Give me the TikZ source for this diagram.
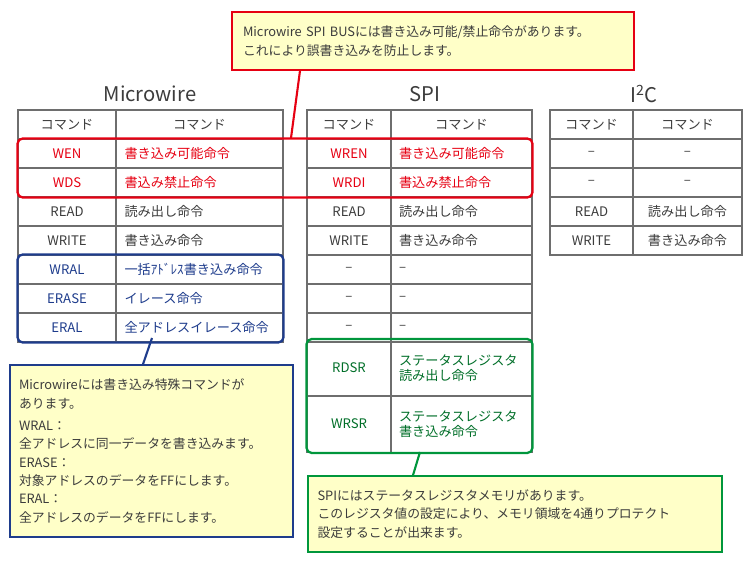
\documentclass[tikz,border=0pt]{standalone}
\usepackage{fontspec}
\setmainfont{Noto Sans CJK JP}
\usetikzlibrary{positioning}
\definecolor{gridc}{RGB}{110,110,110}
\definecolor{txtc}{RGB}{60,60,60}
\definecolor{mred}{RGB}{230,0,18}
\definecolor{mblue}{RGB}{30,60,140}
\definecolor{mgreen}{RGB}{0,150,60}
\definecolor{tgreen}{RGB}{0,110,40}
\definecolor{notec}{RGB}{255,255,200}
\tikzset{
  cell/.style={draw=gridc,line width=0.6pt,inner sep=0pt,minimum height=0.58cm,font=\fontsize{7.5}{9}\selectfont,text=txtc},
  title/.style={font=\fontsize{11.5}{13}\selectfont,text=txtc},
  hbox/.style={line width=1.3pt,rounded corners=3pt},
  note/.style={draw,line width=0.9pt,fill=notec,align=left,inner sep=5pt,font=\fontsize{7.3}{10.5}\selectfont,text=txtc}
}
\begin{document}
\begin{tikzpicture}[x=0.02cm,y=-0.02cm]
\useasboundingbox (0,0) rectangle (750,580);
% titles
\node[title] (tmw) at (150,94) {Microwire};
\node[title] (tspi) at (425,94) {SPI};
\node[title] (ti2c) at (644,94) {I\textsuperscript{2}C};
% Microwire table
\foreach \r/\a/\b/\c/\al in {0/コマンド/コマンド/txtc/center,1/WEN/書き込み可能命令/mred/left,2/WDS/書込み禁止命令/mred/left,3/READ/読み出し命令/txtc/left,4/WRITE/書き込み命令/txtc/left,5/WRAL/一括ｱﾄﾞﾚｽ書き込み命令/mblue/left,6/ERASE/イレース命令/mblue/left,7/ERAL/全アドレスイレース命令/mblue/left}{
  \node[cell,minimum width=1.96cm,text=\c] (mw\r a) at (67,124.5+29*\r) {\a};
  \node[cell,minimum width=3.34cm,text=\c,text width=3.0cm,align=\al] (mw\r b) at (199.5,124.5+29*\r) {\b};
}
% SPI table
\foreach \r/\a/\b/\c/\al in {0/コマンド/コマンド/txtc/center,1/WREN/書き込み可能命令/mred/left,2/WRDI/書込み禁止命令/mred/left,3/READ/読み出し命令/txtc/left,4/WRITE/書き込み命令/txtc/left,5/--/--/txtc/left,6/--/--/txtc/left,7/--/--/txtc/left}{
  \node[cell,minimum width=1.68cm,text=\c] (spi\r a) at (349,124.5+29*\r) {\a};
  \node[cell,minimum width=2.82cm,text=\c,text width=2.5cm,align=\al] (spi\r b) at (461.5,124.5+29*\r) {\b};
}
\foreach \r/\a/\b/\yy in {8/RDSR/読み出し命令/368,9/WRSR/書き込み命令/424}{
  \node[cell,minimum width=1.68cm,minimum height=1.14cm,text=tgreen] (spi\r a) at (349,\yy) {\a};
  \node[cell,minimum width=2.82cm,minimum height=1.14cm,text=tgreen,text width=2.5cm,align=left,font=\fontsize{7.5}{8.5}\selectfont] (spi\r b) at (461.5,\yy) {ステータスレジスタ\\\b};
}
% I2C table
\foreach \r/\a/\b in {0/コマンド/コマンド,1/--/--,2/--/--,3/READ/読み出し命令,4/WRITE/書き込み命令}{
  \node[cell,minimum width=1.66cm] (iic\r a) at (591.5,124.5+29*\r) {\a};
  \node[cell,minimum width=2.18cm] (iic\r b) at (687.5,124.5+29*\r) {\b};
}
% highlights
\draw[hbox,mred] (mw1a.north west) rectangle (spi2b.south east);
\draw[hbox,mblue] (mw5a.north west) rectangle (mw7b.south east);
\draw[hbox,mgreen] (spi8a.north west) rectangle (spi9b.south east);
\coordinate (pr) at (291,138);
\coordinate (pb) at (152,338);
\coordinate (pg) at (420,452);
% notes
\node[note,draw=mred,minimum width=8.04cm,minimum height=1.16cm,text width=7.6cm] (nred) at (433,41) {Microwire SPI BUSには書き込み可能/禁止命令があります。\\これにより誤書き込みを防止します。};
\node[note,draw=mblue,minimum width=5.58cm,minimum height=3.44cm,text width=5.3cm] (nblue) at (151.5,451) {Microwireには書き込み特殊コマンドが\\あります。\\[2pt]WRAL：\\全アドレスに同一データを書き込みます。\\ERASE：\\対象アドレスのデータをFFにします。\\ERAL：\\全アドレスのデータをFFにします。};
\node[note,draw=mgreen,minimum width=8.28cm,minimum height=1.52cm,text width=7.9cm] (ngreen) at (515,514) {SPIにはステータスレジスタメモリがあります。\\このレジスタ値の設定により、メモリ領域を4通りプロテクト\\設定することが出来ます。};
% pointers
\draw[mred,line width=1.2pt] (nred.south -| 300,0) -- (pr);
\draw[mblue,line width=1.2pt] (nblue.north -| 143,0) -- (pb);
\draw[mgreen,line width=1.2pt] (ngreen.north -| 413,0) -- (pg);
\end{tikzpicture}
\end{document}
